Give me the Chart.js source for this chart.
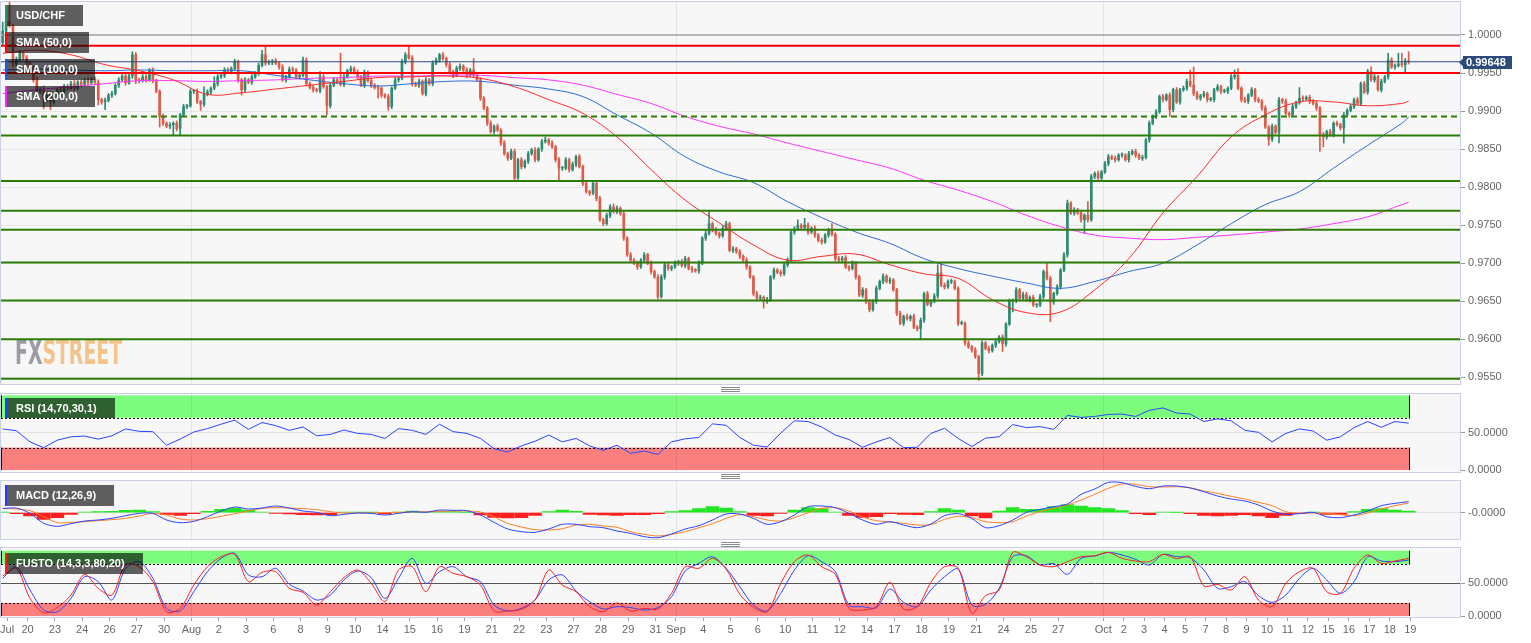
<!DOCTYPE html>
<html lang="en">
<head>
<meta charset="UTF-8">
<title>USD/CHF 4H</title>
<script src="https://cdn.jsdelivr.net/npm/chart.js"></script>
<style>
  body { margin: 0; width: 1531px; height: 643px; background: #fff; overflow: hidden; position: relative;
         font-family: "Liberation Sans", Arial, sans-serif; }
  canvas { position: absolute; left: 0; }
  .tag { position: absolute; left: 5px; height: 21px; line-height: 21px; padding-left: 11px; box-sizing: border-box;
         background: rgba(0,0,0,0.62); color: #fff; font-weight: bold; font-size: 11px; white-space: nowrap; }
  .tag i { position: absolute; left: 0; top: 0; width: 2px; height: 100%; }
  .grip { position: absolute; left: 721px; width: 19px; height: 1px; background: #8a8a8a;
          box-shadow: 0 2px 0 #8a8a8a, 0 4px 0 #8a8a8a; }
</style>
</head>
<body>
<canvas id="main" width="1531" height="388" style="top:0"></canvas>
<canvas id="rsi" width="1531" height="90" style="top:388px"></canvas>
<canvas id="macd" width="1531" height="66" style="top:476px"></canvas>
<canvas id="fusto" width="1531" height="101" style="top:542px"></canvas>

<div class="tag" style="top:5px;width:78px"><i style="background:#2f8f6a"></i>USD/CHF</div>
<div class="tag" style="top:32px;width:84px"><i style="background:#ff0000"></i>SMA (50,0)</div>
<div class="tag" style="top:59px;width:90px"><i style="background:#1d5bd0"></i>SMA (100,0)</div>
<div class="tag" style="top:86px;width:90px"><i style="background:#ff22ff"></i>SMA (200,0)</div>
<div class="tag" style="top:398px;width:110px;height:20px;line-height:20px"><i style="background:#1f3fff"></i>RSI (14,70,30,1)</div>
<div class="tag" style="top:485px;width:109px"><i style="background:#1f3fff"></i>MACD (12,26,9)</div>
<div class="tag" style="top:553px;width:138px"><i style="background:#ff1a1a"></i>FUSTO (14,3,3,80,20)</div>

<div class="grip" style="top:387px"></div>
<div class="grip" style="top:474px"></div>
<div class="grip" style="top:542px"></div>

<script>
// ---- price data (4h candles, values in pips: 9921 = 0.9921) ----
const firstOpenPips = 9990;
const closePips = [
  10005,10018,10012,9962,9968,9976,9970,9963,9956,9941,9926,9928,9915,9922,9912,9920,9928,9925,9932,9930,
  9936,9930,9938,9935,9940,9937,9942,9938,9915,9912,9914,9921,9923,9934,9941,9946,9937,9946,9974,9941,
  9940,9945,9941,9954,9940,9926,9893,9884,9880,9882,9884,9877,9895,9906,9907,9926,9926,9912,9909,9922,
  9925,9930,9936,9945,9947,9954,9952,9956,9965,9941,9928,9941,9938,9945,9950,9960,9974,9963,9964,9966,
  9963,9958,9941,9945,9955,9954,9945,9947,9967,9936,9931,9928,9927,9945,9932,9907,9934,9941,9939,9935,
  9945,9953,9956,9951,9945,9934,9951,9940,9934,9931,9930,9921,9919,9906,9930,9941,9943,9965,9974,9970,
  9936,9934,9939,9923,9941,9936,9963,9967,9974,9969,9961,9952,9947,9956,9959,9954,9947,9954,9947,9941,
  9917,9904,9884,9873,9880,9875,9858,9844,9838,9847,9812,9836,9827,9834,9844,9849,9836,9850,9860,9862,
  9858,9853,9836,9825,9825,9836,9823,9830,9840,9827,9805,9794,9792,9805,9785,9757,9752,9763,9774,9768,
  9772,9765,9733,9711,9704,9700,9695,9704,9711,9700,9689,9682,9656,9682,9698,9693,9695,9700,9702,9697,
  9706,9693,9691,9690,9700,9733,9739,9752,9744,9739,9736,9746,9752,9717,9719,9715,9709,9704,9695,9682,
  9660,9654,9655,9650,9652,9682,9691,9688,9686,9698,9704,9741,9745,9750,9747,9750,9741,9746,9737,9730,
  9728,9737,9743,9738,9706,9704,9707,9695,9693,9700,9682,9658,9665,9649,9639,9650,9667,9676,9683,9676,
  9678,9665,9634,9621,9630,9627,9630,9616,9614,9625,9660,9646,9650,9657,9687,9671,9669,9676,9676,9667,
  9621,9621,9595,9590,9586,9577,9555,9595,9588,9585,9592,9597,9603,9594,9620,9650,9651,9665,9654,9659,
  9652,9655,9645,9645,9656,9689,9680,9649,9660,9669,9691,9711,9779,9766,9770,9766,9757,9763,9757,9814,
  9818,9812,9820,9831,9840,9838,9836,9842,9842,9836,9844,9847,9842,9838,9839,9862,9884,9893,9899,9919,
  9915,9921,9902,9928,9912,9928,9930,9939,9934,9923,9917,9920,9923,9915,9915,9928,9932,9926,9926,9930,
  9945,9947,9930,9915,9913,9921,9928,9915,9913,9904,9879,9863,9880,9872,9915,9913,9897,9895,9906,9911,
  9917,9916,9918,9913,9910,9904,9869,9866,9873,9869,9884,9882,9878,9895,9901,9906,9915,9910,9936,9925,
  9952,9941,9945,9928,9939,9945,9967,9958,9960,9962,9961,9966,9964.8
];
// upper / lower shadow beyond the body, in pips
const highWick = [
  12,4,26,2,3,4,2,3,2,3,4,3,5,3,4,3,2,4,3,3,
  3,4,2,3,3,4,2,3,3,2,3,2,3,2,3,2,3,3,4,3,
  2,3,3,2,3,2,2,3,2,3,2,3,2,3,2,3,2,3,2,10,
  3,2,9,3,2,3,3,2,3,2,2,3,2,3,2,3,6,11,3,2,
  3,2,3,2,3,3,2,3,4,3,2,3,2,7,3,2,3,3,2,37,
  3,2,3,2,3,2,3,2,3,2,3,2,2,3,2,3,2,3,3,11,
  3,2,3,2,3,2,3,3,2,3,2,3,2,3,3,2,3,2,15,2,
  3,2,2,3,2,3,2,3,2,3,3,2,3,2,3,2,3,2,3,4,
  2,3,2,3,2,3,2,3,2,3,2,3,2,3,2,3,2,3,3,4,
  3,2,3,2,3,2,3,2,3,2,3,2,3,3,2,3,2,3,2,3,
  3,2,3,2,3,2,3,16,2,3,2,3,3,2,3,2,3,2,3,2,
  2,3,3,2,3,2,3,2,3,2,3,2,3,7,2,9,3,2,3,2,
  3,2,3,9,2,3,2,3,2,3,2,2,3,2,3,2,3,2,3,2,
  3,2,2,3,2,3,2,3,2,3,2,3,2,3,11,13,3,2,3,2,
  2,3,2,3,2,3,2,3,2,3,2,3,2,3,2,3,2,3,2,3,
  3,2,3,2,3,2,11,3,2,3,2,3,4,2,3,2,3,2,18,3,
  2,3,2,3,3,2,3,2,3,2,3,2,3,2,3,2,3,2,3,2,
  3,2,3,2,3,2,3,3,15,24,3,2,3,2,3,2,3,2,3,2,
  3,7,9,2,3,2,3,2,3,2,3,2,3,2,3,2,3,2,3,2,
  14,3,2,3,2,3,2,3,2,3,2,3,2,3,2,3,2,3,2,3,
  3,6,3,2,3,2,9,3,2,14,14,3,12
];
const lowWick = [
  3,3,2,4,3,2,3,2,3,3,4,3,12,3,10,3,2,3,2,3,
  2,3,2,3,2,3,2,3,7,3,10,2,3,2,3,2,3,2,3,5,
  3,2,3,2,3,2,14,3,2,3,13,3,8,2,3,2,3,2,8,3,
  2,3,2,3,2,3,2,3,2,3,7,3,2,3,2,3,2,3,2,3,
  2,3,2,3,2,3,2,3,2,3,2,3,2,3,2,12,3,2,3,2,
  3,2,3,2,3,2,3,2,3,2,13,3,2,5,3,2,3,2,3,2,
  3,2,3,2,3,2,3,2,3,2,3,2,3,2,3,2,3,2,3,2,
  3,2,3,2,3,2,3,2,3,2,3,2,3,2,3,2,3,2,3,2,
  3,2,3,16,3,2,3,2,3,2,3,2,3,2,3,2,3,2,3,2,
  3,2,3,2,3,2,3,2,3,2,3,2,3,2,3,2,3,2,3,2,
  3,2,3,2,3,2,3,2,3,2,3,2,3,2,3,2,3,2,3,2,
  3,2,3,9,3,2,3,2,3,2,3,2,3,2,3,2,3,2,3,2,
  3,2,3,2,3,2,3,2,3,2,3,2,3,2,3,2,3,2,3,2,
  3,2,3,2,3,2,3,2,3,13,3,2,3,2,3,2,3,2,3,2,
  3,2,3,2,3,2,9,3,2,3,2,3,2,10,3,2,14,3,2,3,
  2,3,2,3,2,3,2,26,3,2,3,2,3,2,3,2,3,18,3,2,
  3,2,3,2,3,2,3,2,3,2,3,2,3,2,3,2,3,2,3,2,
  3,2,9,3,2,3,2,3,2,3,2,3,2,3,2,3,2,3,2,3,
  2,3,2,3,2,3,2,3,2,3,2,8,3,2,14,3,2,3,2,3,
  2,3,2,3,2,3,22,13,3,2,3,2,3,20,3,2,3,2,3,2,
  3,2,3,2,3,2,3,2,3,2,3,11,3
];

// ---- moving averages, read every 10 candles ----
const smaIdx = [0,10,20,30,40,50,60,70,80,90,100,110,120,130,140,150,160,170,180,190,200,210,
                220,230,240,250,260,270,280,290,300,310,320,330,340,350,360,370,380,390,400,410,412];
const sma50 = [9976,9980,9974,9961,9953,9941,9922,9924,9929,9934,9939,9944,9945,9946,9943,
               9932,9915,9897,9866,9823,9783,9753,9724,9704,9709,9712,9698,9686,9680,9652,
               9635,9636,9665,9706,9766,9814,9866,9895,9912,9912,9907,9910,9913];
const sma100 = [9954,9955,9954,9953,9954,9953,9953,9953,9947,9941,9936,9933,9936,9939,9939,
                9934,9929,9919,9895,9871,9840,9820,9806,9781,9760,9741,9726,9706,9693,9683,
                9674,9667,9676,9689,9700,9724,9752,9777,9794,9825,9855,9884,9892];
const sma200 = [9923,9928,9932,9936,9940,9940,9939,9940,9941,9943,9944,9946,9946,9947,9947,
                9944,9941,9934,9922,9910,9893,9880,9870,9858,9847,9836,9825,9809,9796,9781,
                9763,9748,9737,9733,9731,9734,9737,9741,9745,9752,9761,9777,9780];

// ---- horizontal levels ----
const parityLevels = [1.0000];
const resistanceLevels = [0.9986, 0.9950];
const supportLevels = [0.9868, 0.9808, 0.9769, 0.9744, 0.9701, 0.9651, 0.9600, 0.9548];
const pivotLevels = [0.9893];
const priceTicks = [1.0000,0.9950,0.9900,0.9850,0.9800,0.9750,0.9700,0.9650,0.9600,0.9550];

// ---- oscillators, read every 4 candles ----
const oscStep = 4;
const rsi = [55,52.7,37.7,30,40,44.5,45.5,41.4,45.9,55,51.8,51.4,33.2,41.4,50.9,55.5,61.4,66.8,54.5,63.6,
  59.5,53.2,57.7,45.9,47.7,53.6,49.1,47.7,42.3,55.5,53.2,47.7,61.4,51.4,49.1,42.3,28.6,24.1,
  32.3,38.6,46.8,37.7,42.3,32.3,26.4,33.2,22.3,25.5,20.9,37.7,41.8,43.6,61.8,60,43.6,33.2,30.9,49.5,
  65.9,65,57.7,46.8,40.9,30.5,37.7,43.6,30,30.5,49.1,55.9,42.3,31.4,42.7,44.5,60.9,
  56.8,58.2,54.5,73.2,70.5,71.8,74.5,75,71.8,80,83.2,76.4,75,65,68.6,65.9,53.2,50.5,37.7,49.1,
  55,52.3,40,44.5,56.8,65,57.3,65,62.7];
// MACD values in units of 0.00001
const macdLine = [48,56,-8,-128,-164,-132,-100,-88,-68,-36,-8,-8,-88,-120,-104,-48,20,68,44,56,
  80,56,20,4,-36,-20,-4,-8,-28,-8,12,4,32,28,24,-28,-116,-196,
  -228,-236,-196,-140,-140,-168,-180,-220,-248,-288,-300,-256,-196,-156,-88,-16,-16,-68,-140,-108,
  -28,72,80,60,-8,-88,-140,-108,-148,-180,-136,-36,-12,-68,-180,-156,-88,
  4,40,72,104,220,284,364,360,316,288,320,320,296,252,200,164,140,92,20,-20,
  -12,4,-48,-60,-28,20,84,112,132];
const macdSignal = [52,44,24,-48,-120,-116,-108,-96,-84,-68,-40,-8,-28,-76,-88,-72,-44,-12,20,52,
  60,56,48,36,12,-4,-4,-4,0,4,8,12,16,20,20,8,-52,-128,
  -172,-204,-208,-192,-148,-140,-160,-176,-228,-260,-280,-260,-228,-180,-132,-68,-24,-48,-88,-100,
  -60,0,52,60,20,-52,-96,-112,-128,-148,-144,-80,-44,-60,-108,-120,-108,
  -40,12,52,92,152,220,292,344,340,312,308,312,300,260,232,196,164,124,84,12,
  -8,-4,-8,-24,-36,-4,44,84,116];
const macdHist = [8,-12,-40,-80,-60,-20,8,12,16,28,32,12,-20,-32,-12,16,40,52,32,8,
  -8,-16,-24,-28,-24,8,8,4,-16,8,20,8,12,12,4,-28,-56,-64,
  -60,-32,12,32,16,-20,-28,-32,-24,-24,-12,12,24,48,72,56,12,-32,-40,-8,
  32,60,48,8,-32,-56,-48,-12,-20,-24,12,48,32,-40,-64,20,60,
  40,40,72,96,80,60,48,24,-12,-24,8,4,-12,-32,-40,-32,-24,-40,-60,-32,
  -12,4,-20,-20,12,40,48,32,20];
const stochK = [61.2,73,27,5,12.8,32,63.8,42.3,32,79,75.5,52.6,6.6,11.7,47.4,75.5,90.8,94.4,52.6,66.8,
  67.9,42.3,36.2,16.8,37.2,58.7,70.4,50,22,70.4,75.5,37.2,75.5,65.3,60.2,47.4,7.7,7.7,
  10.2,24.5,70.4,47.4,37.2,14.3,6.6,19.9,7.7,11.7,10.7,34.7,75.5,73,88.3,71.9,33.2,13.3,6.6,50,
  83.2,93.4,75.5,63.8,11.7,9.2,14.3,51.5,10.7,14.3,51.5,75.5,73,4.1,31.1,39.8,97.4,
  90.8,78.1,75.5,83.2,90.8,92.3,97.4,88.3,84.2,83.2,94.4,87.8,90.8,45.9,48.5,39.8,60.2,24.5,14.3,50,
  67.9,73,37.2,34.7,73,93.4,80.6,84.2,88.3];
const stochD = [57.7,75.5,39.8,9.2,6.6,27,60.2,52.6,24.5,73,83.2,57.7,11.7,7.7,37.2,67.9,88.3,95.9,62.8,60.2,
  73,48.5,38.3,24.5,32.1,55.1,68.9,58.7,27,57.7,88.3,50,67.9,75.5,60.2,52.6,16.8,7.7,
  11.7,24.5,55.1,62.8,38.3,21.9,10.7,14.3,12.8,9.2,12.8,29.6,68.9,80.6,90.8,73,44.9,16.8,7.7,34.7,
  70.4,92.3,83.2,67.9,16.8,14.3,12.8,41.3,20.9,14.3,39.8,60.2,71.9,16.8,17.9,42.3,90.8,
  92.3,78.1,80.1,63.8,88.3,91.8,97.4,93.4,86.7,78.1,94.4,90.8,89.3,70.4,42.3,44.9,52.6,31.1,20.9,32.1,
  57.7,73,55.1,34.7,52.6,90.8,84.2,83.2,85.7];

// ---- time axis ----
const tickLabels = ["Jul","20","23","24","26","27","30","Aug","2","3","6","8","9","10","14","15","16","19","21",
  "22","23","27","28","29","31","Sep","4","5","6","10","11","12","14","17","18","19","21","24","25","27",
  "Oct","2","3","4","5","7","8","9","10","11","12","15","16","17","18","19"];
const tickIdx = [1.3,7.3,15.3,23.3,31.3,39.3,47.3,55.3,63.3,71.3,79.3,87.3,95.3,103.3,111.3,119.3,127.3,135.3,143.3,
  151.3,159.3,167.3,175.3,183.3,191.3,197.3,205.3,213.3,221.3,229.3,237.3,245.3,253.3,261.3,269.3,277.3,285.3,293.3,301.3,309.3,
  322.5,328.5,334.5,340.5,346.5,352.5,358.5,364.5,370.5,376.5,382.5,388.5,394.5,400.5,406.5,412.5];
const monthIdx = [55.3, 197.3, 322.5];

// ------------------------------------------------------------------
const X_MIN = -0.5, X_MAX = 427.05;
const GREEN = '#2f8a72', RED = '#dc5b49';
Chart.defaults.font.family = '"Liberation Sans", Arial, sans-serif';

const candles = closePips.map((c, i) => {
  const o = i === 0 ? firstOpenPips : closePips[i - 1];
  return { o, c, h: Math.max(o, c) + highWick[i], l: Math.min(o, c) - lowWick[i] };
});
const candleColors = candles.map(k => k.c >= k.o ? GREEN : RED);
const lastPrice = closePips[closePips.length - 1] / 10000;
const bandEnd = closePips.length - 0.5;
const oscX = k => k * oscStep;

const common = {
  responsive: false,
  animation: false,
  events: [],
  devicePixelRatio: 1,
  plugins: { legend: { display: false }, tooltip: { enabled: false } }
};

function yAxis(min, max, ticks, fmt, gridColor) {
  return {
    position: 'right', min, max,
    afterBuildTicks: s => { s.ticks = ticks.map(v => ({ value: v })); },
    afterFit: s => { s.width = 71; s.paddingTop = 0; s.paddingBottom = 0; },
    ticks: { callback: fmt, color: '#666', font: { size: 11 }, padding: 3 },
    grid: { color: gridColor, tickColor: '#9a9a9a', tickLength: 5 },
    border: { display: false }
  };
}

const paneFrame = {
  id: 'paneFrame',
  beforeDraw(chart) {
    const { ctx, chartArea: a } = chart;
    ctx.save();
    ctx.fillStyle = '#f7f7f7';
    ctx.fillRect(a.left, a.top, a.right - a.left, a.bottom - a.top);
    ctx.restore();
  },
  beforeDatasetsDraw(chart) {
    const { ctx, chartArea: a, scales: { x } } = chart;
    ctx.save();
    ctx.strokeStyle = 'rgba(0,0,0,0.07)';
    ctx.lineWidth = 1;
    monthIdx.forEach(m => {
      const px = Math.round(x.getPixelForValue(m)) + 0.5;
      ctx.beginPath(); ctx.moveTo(px, a.top); ctx.lineTo(px, a.bottom); ctx.stroke();
    });
    ctx.restore();
  },
  afterDraw(chart) {
    const { ctx, chartArea: a } = chart;
    ctx.save();
    ctx.strokeStyle = '#c8d0e3';
    ctx.lineWidth = 1;
    ctx.strokeRect(Math.round(a.left) - 0.5, Math.round(a.top) - 0.5,
                   Math.round(a.right - a.left) + 1, Math.round(a.bottom - a.top) + 1);
    ctx.restore();
  }
};

const bands = {
  id: 'bands',
  beforeDatasetsDraw(chart, args, opts) {
    const { ctx, chartArea: a, scales: { x, y } } = chart;
    const x0 = a.left, x1 = Math.round(x.getPixelForValue(bandEnd));
    const yTop = y.getPixelForValue(100), yHi = y.getPixelForValue(opts.hi);
    const yLo = y.getPixelForValue(opts.lo), yBot = y.getPixelForValue(0);
    ctx.save();
    ctx.fillStyle = '#7cfb7c';
    ctx.fillRect(x0, yTop, x1 - x0, yHi - yTop);
    ctx.fillStyle = '#fa7f7f';
    ctx.fillRect(x0, yLo, x1 - x0, yBot - yLo);
    ctx.strokeStyle = '#111';
    ctx.lineWidth = 1;
    ctx.beginPath();
    ctx.moveTo(x0 + 0.5, yTop); ctx.lineTo(x0 + 0.5, yHi);
    ctx.moveTo(x1 - 0.5, yTop); ctx.lineTo(x1 - 0.5, yHi);
    ctx.moveTo(x0 + 0.5, yLo); ctx.lineTo(x0 + 0.5, yBot);
    ctx.moveTo(x1 - 0.5, yLo); ctx.lineTo(x1 - 0.5, yBot);
    ctx.stroke();
    ctx.setLineDash([2, 2]);
    [yHi, yLo].forEach(py => {
      ctx.beginPath(); ctx.moveTo(x0, Math.round(py) + 0.5); ctx.lineTo(x1, Math.round(py) + 0.5); ctx.stroke();
    });
    ctx.restore();
  }
};

const levels = {
  id: 'levels',
  beforeDatasetsDraw(chart) {
    // watermark
    const { ctx } = chart;
    ctx.save();
    ctx.font = 'bold 33px "Liberation Sans Narrow", "DejaVu Sans Condensed", "Liberation Sans", sans-serif';
    ctx.textBaseline = 'alphabetic';
    const wFx = ctx.measureText('FX').width, wAll = ctx.measureText('FXSTREET').width;
    ctx.translate(15, 364);
    ctx.scale(107 / wAll, 1);
    ctx.fillStyle = '#9b9ca4';
    ctx.fillText('FX', 0, 0);
    ctx.fillStyle = '#f2c48c';
    ctx.fillText('STREET', wFx, 0);
    ctx.restore();
  },
  afterDatasetsDraw(chart) {
    const { ctx, chartArea: a, scales: { y } } = chart;
    const hline = (v, color, w, dash) => {
      const py = y.getPixelForValue(v);
      ctx.save();
      ctx.strokeStyle = color; ctx.lineWidth = w; ctx.setLineDash(dash || []);
      ctx.beginPath(); ctx.moveTo(a.left, py); ctx.lineTo(a.right, py); ctx.stroke();
      ctx.restore();
    };
    parityLevels.forEach(v => hline(v, '#a5a5a5', 1.5));
    resistanceLevels.forEach(v => hline(v, '#ff0000', 2));
    supportLevels.forEach(v => hline(v, '#2b7d06', 2));
    pivotLevels.forEach(v => hline(v, '#2b7d06', 2, [6, 4]));
    hline(lastPrice, '#2c4a7a', 1);
  },
  afterDraw(chart) {
    const { ctx, chartArea: a, scales: { y } } = chart;
    const py = Math.round(y.getPixelForValue(lastPrice)) + 0.5;
    const bx = a.right + 3;
    ctx.save();
    ctx.fillStyle = '#2c4a7a';
    ctx.beginPath();
    ctx.moveTo(a.right - 1, py);
    ctx.lineTo(bx, py - 4);
    ctx.lineTo(bx, py - 6.5);
    ctx.lineTo(bx + 49, py - 6.5);
    ctx.lineTo(bx + 49, py + 6.5);
    ctx.lineTo(bx, py + 6.5);
    ctx.lineTo(bx, py + 4);
    ctx.closePath();
    ctx.fill();
    ctx.fillStyle = '#fff';
    ctx.font = 'bold 11px "Liberation Sans", Arial, sans-serif';
    ctx.textBaseline = 'middle';
    ctx.fillText(lastPrice.toFixed(5), bx + 3, py + 0.5);
    ctx.restore();
  }
};

const xHidden = { type: 'linear', min: X_MIN, max: X_MAX, display: false, offset: false };

// ---- main price pane ----
new Chart(document.getElementById('main'), {
  type: 'bar',
  data: {
    datasets: [
      { type: 'line', data: smaIdx.map((x, k) => ({ x, y: sma50[k] / 10000 })), borderColor: '#ff2b2b',
        borderWidth: 1, pointRadius: 0, tension: 0.4, order: 0 },
      { type: 'line', data: smaIdx.map((x, k) => ({ x, y: sma100[k] / 10000 })), borderColor: '#2d6bd6',
        borderWidth: 1, pointRadius: 0, tension: 0.4, order: 0 },
      { type: 'line', data: smaIdx.map((x, k) => ({ x, y: sma200[k] / 10000 })), borderColor: '#ff33ff',
        borderWidth: 1, pointRadius: 0, tension: 0.4, order: 0 },
      { data: candles.map((k, i) => ({ x: i, y: [Math.min(k.o, k.c) / 10000, Math.max(k.o, k.c) / 10000] })),
        backgroundColor: candleColors, barThickness: 2, minBarLength: 1, grouped: false, borderWidth: 0, order: 1 },
      { data: candles.map((k, i) => ({ x: i, y: [k.l / 10000, k.h / 10000] })),
        backgroundColor: candleColors, barThickness: 1, grouped: false, borderWidth: 0, order: 2 }
    ]
  },
  options: Object.assign({}, common, {
    layout: { padding: { top: 2, bottom: 4, left: 1, right: 0 } },
    scales: {
      x: xHidden,
      y: yAxis(0.954121, 1.004338, priceTicks, v => v.toFixed(4), '#e6e6e6')
    }
  }),
  plugins: [paneFrame, levels]
});

// ---- RSI pane ----
new Chart(document.getElementById('rsi'), {
  type: 'line',
  data: {
    datasets: [{ data: rsi.map((v, k) => ({ x: oscX(k), y: v })), borderColor: '#2b45ff',
                 borderWidth: 1, pointRadius: 0, tension: 0 }]
  },
  options: Object.assign({}, common, {
    layout: { padding: { top: 5.5, bottom: 6.5, left: 1, right: 0 } },
    plugins: Object.assign({}, common.plugins, { bands: { hi: 70, lo: 30 } }),
    scales: {
      x: xHidden,
      y: yAxis(-2, 102.55, [0, 50], v => v.toFixed(4),
               c => c.tick && c.tick.value === 50 ? '#e2e2e2' : 'rgba(0,0,0,0)')
    }
  }),
  plugins: [bands, paneFrame]
});

// ---- MACD pane ----
new Chart(document.getElementById('macd'), {
  type: 'bar',
  data: {
    datasets: [
      { type: 'line', data: macdLine.map((v, k) => ({ x: oscX(k), y: v })), borderColor: '#2b45ff',
        borderWidth: 1, pointRadius: 0, tension: 0.3, order: 0 },
      { type: 'line', data: macdSignal.map((v, k) => ({ x: oscX(k), y: v })), borderColor: '#ff7f27',
        borderWidth: 1, pointRadius: 0, tension: 0.3, order: 0 },
      { data: macdHist.map((v, k) => ({ x: oscX(k), y: v })),
        backgroundColor: macdHist.map(v => v >= 0 ? '#22e622' : '#ff1e1e'),
        barThickness: 13, borderWidth: 0, order: 1 }
    ]
  },
  options: Object.assign({}, common, {
    layout: { padding: { top: 4.7, bottom: 3, left: 1, right: 0 } },
    scales: {
      x: xHidden,
      y: yAxis(-316, 384, [0], v => (v <= 0 ? '-' : '') + Math.abs(v / 100000).toFixed(4), '#e2e2e2')
    }
  }),
  plugins: [paneFrame]
});

// ---- Full stochastic pane ----
new Chart(document.getElementById('fusto'), {
  type: 'line',
  data: {
    datasets: [
      { data: stochK.map((v, k) => ({ x: oscX(k), y: v })), borderColor: '#ff2020',
        borderWidth: 1, pointRadius: 0, tension: 0.3 },
      { data: stochD.map((v, k) => ({ x: oscX(k), y: v })), borderColor: '#2b45ff',
        borderWidth: 1, pointRadius: 0, tension: 0.3 }
    ]
  },
  options: Object.assign({}, common, {
    layout: { padding: { top: 6.3, bottom: 0, left: 1, right: 0 } },
    plugins: Object.assign({}, common.plugins, { bands: { hi: 80, lo: 20 } }),
    scales: {
      x: {
        type: 'linear', min: X_MIN, max: X_MAX, offset: false,
        afterBuildTicks: s => { s.ticks = tickIdx.map(v => ({ value: v })); },
        afterFit: s => { s.height = 26; s.paddingLeft = 0; s.paddingRight = 0; },
        ticks: { callback: (v, i) => tickLabels[i], autoSkip: false, maxRotation: 0, minRotation: 0,
                 color: '#666', font: { size: 11 }, padding: 2 },
        grid: { drawOnChartArea: false, tickLength: 4, tickColor: '#a0a0a0' },
        border: { display: false }
      },
      y: yAxis(-1.53, 103.68, [0, 50], v => v.toFixed(4),
               c => c.tick && c.tick.value === 50 ? '#555' : 'rgba(0,0,0,0)')
    }
  }),
  plugins: [bands, paneFrame]
});
</script>
</body>
</html>
